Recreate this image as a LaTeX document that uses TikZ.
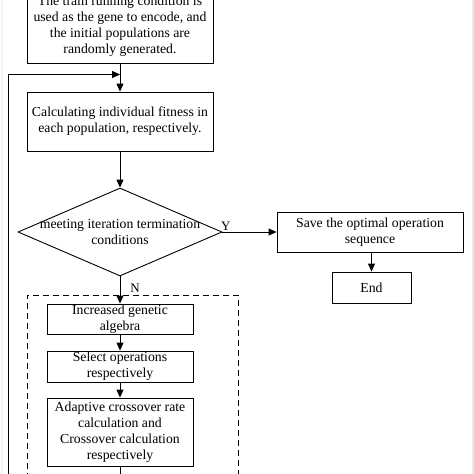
\documentclass[tikz,border=0pt]{standalone}
\usepackage{fontspec}
\setmainfont{Liberation Serif}
\usetikzlibrary{arrows.meta,shapes.geometric}
\begin{document}
\begin{tikzpicture}[x=1pt,y=-1pt,
  line width=0.9pt,
  box/.style={draw, rectangle, inner sep=0pt, align=center, font=\fontsize{13.75}{16}\selectfont},
  conn/.style={-{Triangle[length=8pt,width=7pt]}},
  plain/.style={draw=none, align=center, inner sep=0pt, font=\fontsize{13.75}{16}\selectfont},
  lbl/.style={font=\fontsize{13}{14}\selectfont, inner sep=0pt}]
\useasboundingbox (0,0) rectangle (474,474);
\fill[white] (0,0) rectangle (474,474);
\fill[black!8] (472,0) rectangle (474,474);
\fill[black!5] (1,0) rectangle (3,474);
\begin{scope}
\clip (0,0) rectangle (474,474);
% nodes
\node[box, minimum width=186pt, minimum height=73pt] (init) at (120,26.5)
  {The train running condition is\\used as the gene to encode, and\\the initial populations are\\randomly generated.};
\node[box, minimum width=186pt, minimum height=59pt] (fit) at (120,121.5)
  {Calculating individual fitness in\\each population, respectively.};
\node[draw, diamond, minimum width=204pt, minimum height=88pt, inner sep=0pt] (dec) at (120,232) {};
\node[plain] (dectext) at (120,232) {meeting iteration termination\\conditions};
\node[box, minimum width=186pt, minimum height=40pt] (save) at (370,232)
  {Save the optimal operation\\sequence};
\node[box, minimum width=79pt, minimum height=31pt] (end) at (371.5,287.5) {End};
\node[draw, dashed, dash pattern=on 6pt off 4pt, minimum width=211pt, minimum height=200pt, inner sep=0pt] (grp) at (132.5,395) {};
\node[box, minimum width=146pt, minimum height=30pt] (inc) at (120,319)
  {Increased genetic\\algebra};
\node[box, minimum width=146pt, minimum height=31pt] (sel) at (120,366.5)
  {Select operations\\respectively};
\node[box, minimum width=146pt, minimum height=68pt] (cross) at (120,432)
  {Adaptive crossover rate\\calculation and\\Crossover calculation\\respectively};
\coordinate (merge) at (120,74.5);
\coordinate (loopb) at (8.5,480);
\coordinate (crossb) at (120,480);
% connectors
\draw[conn] (init.south) -- (fit.north);
\draw[conn] (loopb) |- (merge);
\draw[conn] (fit.south) -- (dec.north);
\draw[conn] (dec.east) -- node[lbl, pos=0.06, above=1pt] {Y} (save.west);
\draw[conn] (save.south -| end.north) -- (end.north);
\draw[conn] (dec.south) -- node[lbl, pos=0.45, right=10pt] {N} (inc.north);
\draw[conn] (inc.south) -- (sel.north);
\draw[conn] (sel.south) -- (cross.north);
\draw (cross.south) -- (crossb);
\end{scope}
\end{tikzpicture}
\end{document}
